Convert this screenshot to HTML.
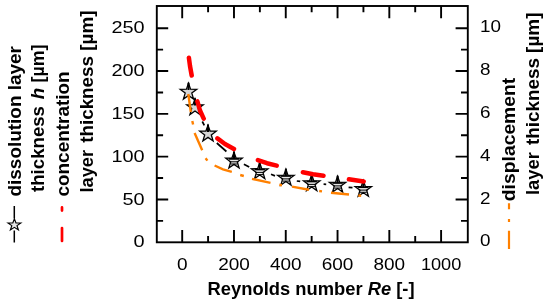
<!DOCTYPE html><html><head><meta charset="utf-8"><style>html,body{margin:0;padding:0;background:#fff}svg{display:block}</style></head><body><svg width="550" height="307" viewBox="0 0 550 307">
<rect width="550" height="307" fill="#fff"/>
<path d="M182.20 242.3 v-12.200000000000001 M182.20 6.0 v12.200000000000001 M208.09 242.3 v-6.3 M208.09 6.0 v6.3 M233.98 242.3 v-12.200000000000001 M233.98 6.0 v12.200000000000001 M259.87 242.3 v-6.3 M259.87 6.0 v6.3 M285.76 242.3 v-12.200000000000001 M285.76 6.0 v12.200000000000001 M311.65 242.3 v-6.3 M311.65 6.0 v6.3 M337.54 242.3 v-12.200000000000001 M337.54 6.0 v12.200000000000001 M363.43 242.3 v-6.3 M363.43 6.0 v6.3 M389.32 242.3 v-12.200000000000001 M389.32 6.0 v12.200000000000001 M415.21 242.3 v-6.3 M415.21 6.0 v6.3 M441.10 242.3 v-12.200000000000001 M441.10 6.0 v12.200000000000001 M156.8 220.89 h6.3 M156.8 199.48 h11.4 M156.8 178.07 h6.3 M156.8 156.66 h11.4 M156.8 135.25 h6.3 M156.8 113.84 h11.4 M156.8 92.43 h6.3 M156.8 71.02 h11.4 M156.8 49.61 h6.3 M156.8 28.20 h11.4 M467.8 220.89 h-6.8 M467.8 199.48 h-12.200000000000001 M467.8 178.07 h-6.8 M467.8 156.66 h-12.200000000000001 M467.8 135.25 h-6.8 M467.8 113.84 h-12.200000000000001 M467.8 92.43 h-6.8 M467.8 71.02 h-12.200000000000001 M467.8 49.61 h-6.8 M467.8 28.20 h-12.200000000000001" stroke="#000" stroke-width="1.9" fill="none"/>
<rect x="156.8" y="6.0" width="311.0" height="236.3" fill="none" stroke="#000" stroke-width="1.9"/>
<g font-family="Liberation Sans, Arial, sans-serif" fill="#000">
<text x="182.2" y="269.5" text-anchor="middle" font-size="17.3" textLength="10.6" lengthAdjust="spacingAndGlyphs">0</text>
<text x="234.0" y="269.5" text-anchor="middle" font-size="17.3" textLength="31.7" lengthAdjust="spacingAndGlyphs">200</text>
<text x="285.8" y="269.5" text-anchor="middle" font-size="17.3" textLength="31.7" lengthAdjust="spacingAndGlyphs">400</text>
<text x="337.5" y="269.5" text-anchor="middle" font-size="17.3" textLength="31.7" lengthAdjust="spacingAndGlyphs">600</text>
<text x="389.3" y="269.5" text-anchor="middle" font-size="17.3" textLength="31.7" lengthAdjust="spacingAndGlyphs">800</text>
<text x="441.1" y="269.5" text-anchor="middle" font-size="17.3" textLength="40.4" lengthAdjust="spacingAndGlyphs">1000</text>
<text x="144.6" y="247.3" text-anchor="end" font-size="17.3" textLength="11.1" lengthAdjust="spacingAndGlyphs">0</text>
<text x="144.6" y="204.5" text-anchor="end" font-size="17.3" textLength="22.1" lengthAdjust="spacingAndGlyphs">50</text>
<text x="144.6" y="161.7" text-anchor="end" font-size="17.3" textLength="33.2" lengthAdjust="spacingAndGlyphs">100</text>
<text x="144.6" y="118.8" text-anchor="end" font-size="17.3" textLength="33.2" lengthAdjust="spacingAndGlyphs">150</text>
<text x="144.6" y="76.0" text-anchor="end" font-size="17.3" textLength="33.2" lengthAdjust="spacingAndGlyphs">200</text>
<text x="144.6" y="33.2" text-anchor="end" font-size="17.3" textLength="33.2" lengthAdjust="spacingAndGlyphs">250</text>
<text x="480.0" y="246.3" text-anchor="start" font-size="17.3" textLength="10.5" lengthAdjust="spacingAndGlyphs">0</text>
<text x="480.0" y="203.5" text-anchor="start" font-size="17.3" textLength="10.5" lengthAdjust="spacingAndGlyphs">2</text>
<text x="480.0" y="160.7" text-anchor="start" font-size="17.3" textLength="10.5" lengthAdjust="spacingAndGlyphs">4</text>
<text x="480.0" y="117.8" text-anchor="start" font-size="17.3" textLength="10.5" lengthAdjust="spacingAndGlyphs">6</text>
<text x="480.0" y="75.0" text-anchor="start" font-size="17.3" textLength="10.5" lengthAdjust="spacingAndGlyphs">8</text>
<text x="480.0" y="32.2" text-anchor="start" font-size="17.3" textLength="21.0" lengthAdjust="spacingAndGlyphs">10</text>
</g>
<g font-family="Liberation Sans, Arial, sans-serif" font-weight="bold" font-size="18.8" fill="#000">
<text x="207.6" y="294.7" font-size="18" textLength="207" lengthAdjust="spacingAndGlyphs">Reynolds number <tspan font-style="italic">Re</tspan> [-]</text>
<text transform="translate(20.8 196.5) rotate(-90)" textLength="150.5" lengthAdjust="spacingAndGlyphs">dissolution layer</text>
<text transform="translate(44.0 192.0) rotate(-90)" textLength="86.0" lengthAdjust="spacingAndGlyphs">thickness</text>
<text transform="translate(44.0 99.3) rotate(-90)" font-style="italic">h</text>
<text transform="translate(44.0 82.4) rotate(-90)" textLength="37.9" lengthAdjust="spacingAndGlyphs">[µm]</text>
<text transform="translate(68.8 196.6) rotate(-90)" textLength="125.3" lengthAdjust="spacingAndGlyphs">concentration</text>
<text transform="translate(92.6 192.6) rotate(-90)" textLength="42.8" lengthAdjust="spacingAndGlyphs">layer</text>
<text transform="translate(92.6 142.8) rotate(-90)" textLength="86.8" lengthAdjust="spacingAndGlyphs">thickness</text>
<text transform="translate(92.6 50.8) rotate(-90)" textLength="40.3" lengthAdjust="spacingAndGlyphs">[µm]</text>
<text transform="translate(514.8 201.2) rotate(-90)" textLength="123.5" lengthAdjust="spacingAndGlyphs">displacement</text>
<text transform="translate(539.0 195.0) rotate(-90)" textLength="42.9" lengthAdjust="spacingAndGlyphs">layer</text>
<text transform="translate(539.0 145.1) rotate(-90)" textLength="87.0" lengthAdjust="spacingAndGlyphs">thickness</text>
<text transform="translate(539.0 52.9) rotate(-90)" textLength="40.4" lengthAdjust="spacingAndGlyphs">[µm]</text>
</g>
<path d="M202.3 121.5L204.3 125.3 M216.8 143L226.4 151.5 M243.9 164.2L249.2 167.0 M271 174.3L275 175.9 M296.8 181L300.2 181.4 M323.6 184.2L326.2 184.4 M348.6 187.4L352.5 187.7" stroke="#000" stroke-width="1.7" fill="none"/>
<polygon points="188.50,83.30 190.55,89.18 196.77,89.31 191.81,93.08 193.61,99.04 188.50,95.48 183.39,99.04 185.19,93.08 180.23,89.31 186.45,89.18" fill="#d6d6d6" stroke="#000" stroke-width="1.3" stroke-linejoin="miter"/>
<path d="M188.5 82.7V90.0" stroke="#000" stroke-width="2" fill="none"/>
<polygon points="195.00,98.80 197.05,104.68 203.27,104.81 198.31,108.58 200.11,114.54 195.00,110.98 189.89,114.54 191.69,108.58 186.73,104.81 192.95,104.68" fill="#d6d6d6" stroke="#000" stroke-width="1.3" stroke-linejoin="miter"/>
<path d="M195.0 98.2V105.5" stroke="#000" stroke-width="2" fill="none"/>
<polygon points="208.00,125.20 210.05,131.08 216.27,131.21 211.31,134.98 213.11,140.94 208.00,137.38 202.89,140.94 204.69,134.98 199.73,131.21 205.95,131.08" fill="#d6d6d6" stroke="#000" stroke-width="1.3" stroke-linejoin="miter"/>
<path d="M208.0 124.6V131.9" stroke="#000" stroke-width="2" fill="none"/>
<polygon points="234.00,152.20 236.05,158.08 242.27,158.21 237.31,161.98 239.11,167.94 234.00,164.38 228.89,167.94 230.69,161.98 225.73,158.21 231.95,158.08" fill="#e6e6e6" stroke="#000" stroke-width="1.3" stroke-linejoin="miter"/>
<path d="M234.0 151.6V158.9" stroke="#000" stroke-width="2" fill="none"/>
<path d="M228.8 158.9h10.4" stroke="#000" stroke-width="1.7" fill="none"/>
<path d="M229.4 161.8h9.2M230.6 164.0h6.8" stroke="#000" stroke-width="1.0" fill="none"/>
<polygon points="259.70,162.80 261.75,168.68 267.97,168.81 263.01,172.58 264.81,178.54 259.70,174.98 254.59,178.54 256.39,172.58 251.43,168.81 257.65,168.68" fill="#e6e6e6" stroke="#000" stroke-width="1.3" stroke-linejoin="miter"/>
<path d="M259.7 162.2V169.5" stroke="#000" stroke-width="2" fill="none"/>
<path d="M254.5 169.5h10.4" stroke="#000" stroke-width="1.7" fill="none"/>
<path d="M255.1 172.4h9.2M256.3 174.6h6.8" stroke="#000" stroke-width="1.0" fill="none"/>
<polygon points="285.90,169.30 287.95,175.18 294.17,175.31 289.21,179.08 291.01,185.04 285.90,181.48 280.79,185.04 282.59,179.08 277.63,175.31 283.85,175.18" fill="#e6e6e6" stroke="#000" stroke-width="1.3" stroke-linejoin="miter"/>
<path d="M285.9 168.7V176.0" stroke="#000" stroke-width="2" fill="none"/>
<path d="M280.7 176.0h10.4" stroke="#000" stroke-width="1.7" fill="none"/>
<path d="M281.3 178.9h9.2M282.5 181.1h6.8" stroke="#000" stroke-width="1.0" fill="none"/>
<polygon points="311.70,174.80 313.75,180.68 319.97,180.81 315.01,184.58 316.81,190.54 311.70,186.98 306.59,190.54 308.39,184.58 303.43,180.81 309.65,180.68" fill="#e6e6e6" stroke="#000" stroke-width="1.3" stroke-linejoin="miter"/>
<path d="M311.7 174.2V181.5" stroke="#000" stroke-width="2" fill="none"/>
<path d="M306.5 181.5h10.4" stroke="#000" stroke-width="1.7" fill="none"/>
<path d="M307.1 184.4h9.2M308.3 186.6h6.8" stroke="#000" stroke-width="1.0" fill="none"/>
<polygon points="337.60,176.30 339.65,182.18 345.87,182.31 340.91,186.08 342.71,192.04 337.60,188.48 332.49,192.04 334.29,186.08 329.33,182.31 335.55,182.18" fill="#e6e6e6" stroke="#000" stroke-width="1.3" stroke-linejoin="miter"/>
<path d="M337.6 175.7V183.0" stroke="#000" stroke-width="2" fill="none"/>
<path d="M332.4 183.0h10.4" stroke="#000" stroke-width="1.7" fill="none"/>
<path d="M333.0 185.9h9.2M334.2 188.1h6.8" stroke="#000" stroke-width="1.0" fill="none"/>
<polygon points="363.30,180.50 365.35,186.38 371.57,186.51 366.61,190.28 368.41,196.24 363.30,192.68 358.19,196.24 359.99,190.28 355.03,186.51 361.25,186.38" fill="#e6e6e6" stroke="#000" stroke-width="1.3" stroke-linejoin="miter"/>
<path d="M363.3 179.9V187.2" stroke="#000" stroke-width="2" fill="none"/>
<path d="M358.1 187.2h10.4" stroke="#000" stroke-width="1.7" fill="none"/>
<path d="M358.7 190.1h9.2M359.9 192.3h6.8" stroke="#000" stroke-width="1.0" fill="none"/>
<path d="M188.3 94L190.8 112 M192.3 121L193.1 124.6 M194.6 133L202.2 150.3 M205.6 158.2L207.4 160.6 M214.6 165.5L223 169.3L231.8 171.8 M240.2 175.0L243.8 176.0 M252 178.8L270.5 182.8 M279.3 184.7L282 185.2 M292 186.6L309 189.8 M319.2 191L322 191.4 M331 192.8L349 194.5 M358.3 195.5L361.2 195.8" stroke="#ff8000" stroke-width="2.4" fill="none"/>
<path d="M188.9 57.8L190.0 66.0L191.7 75.5 M197.4 101.4L200.0 110.5L203.7 118.6 M217.4 138.4L225.0 144.0L234.0 148.9 M257.9 160.1L267.0 163.2L276.7 165.6 M302.9 172.3L313.0 174.3L323.5 175.8 M348.9 179.3L363.7 181.4" stroke="#ff0000" stroke-width="4.5" fill="none" stroke-linejoin="round" stroke-linecap="round"/>
<path d="M14.3 206V218.5M14.3 230.5V242.4" stroke="#000" stroke-width="1.5"/>
<g transform="translate(14.4 224.9) scale(1.12 1)"><polygon points="0.00,-6.10 1.43,-1.97 5.80,-1.89 2.32,0.75 3.59,4.94 0.00,2.44 -3.59,4.94 -2.32,0.75 -5.80,-1.89 -1.43,-1.97" fill="#e6e6e6" stroke="#000" stroke-width="1.05"/></g>
<path d="M62 241V228M62 210.6V207.4" stroke="#ff0000" stroke-width="2.7" stroke-linecap="round"/>
<path d="M509 249V230.8M509 222V219M509 209.2V203.2" stroke="#ff8000" stroke-width="2.2"/>
</svg></body></html>
